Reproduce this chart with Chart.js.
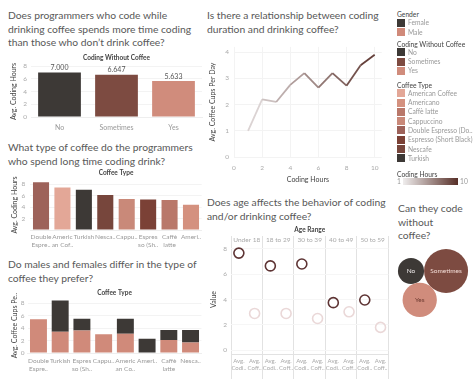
<!DOCTYPE html>
<html>
<head>
<meta charset="utf-8">
<script src="https://cdn.jsdelivr.net/npm/chart.js@4.4.1/dist/chart.umd.min.js"></script>
<style>
  body { margin: 0; background: #fff; width: 474px; height: 379px; overflow: hidden; position: relative; font-family: Lato, sans-serif; }
  canvas { position: absolute; }
  .title { position: absolute; font-size: 10.3px; line-height: 13.7px; color: #585858; white-space: nowrap; }
  .lg { position: absolute; font-size: 6.7px; color: #999; white-space: nowrap; line-height: 8px; }
  .lg.head { color: #444; }
  .sw { position: absolute; width: 8px; height: 8px; }
</style>
</head>
<body>
<div class="title" style="left:8px;top:9px">Does programmers who code while<br>drinking coffee spends more time coding<br>than those who don’t drink coffee?</div>
<div class="title" style="left:8px;top:141px">What type of coffee do the programmers<br>who spend long time coding drink?</div>
<div class="title" style="left:8px;top:258px">Do males and females differ in the type of<br>coffee they prefer?</div>
<div class="title" style="left:207px;top:9px">Is there a relationship between coding<br>duration and drinking coffee?</div>
<div class="title" style="left:207px;top:196px">Does age affects the behavior of coding<br>and/or drinking coffee?</div>
<div class="title" style="left:398px;top:202px">Can they code<br>without<br>coffee?</div>

<canvas id="habitChart" width="205" height="90" style="left:0;top:50px"></canvas>
<canvas id="typeChart" width="205" height="88" style="left:0;top:165px"></canvas>
<canvas id="genderChart" width="205" height="94" style="left:0;top:285px"></canvas>
<canvas id="hoursChart" width="181" height="150" style="left:205px;top:38px"></canvas>
<canvas id="ageChart" width="190" height="157" style="left:205px;top:222px"></canvas>
<canvas id="bubbleChart" width="91" height="90" style="left:383px;top:240px"></canvas>
<div id="legend"></div>

<script>
// ---- data ----
const habits = ['No', 'Sometimes', 'Yes'];
const avgCodingByHabit = [7.000, 6.647, 5.633];
const habitCounts = [18, 51, 31];

const coffeeTypes = ['American Coffee', 'Americano', 'Caffè latte', 'Cappuccino', 'Double Espresso (Do..', 'Espresso (Short Black)', 'Nescafe', 'Turkish'];

const typeOrder = ['Double Espresso (Do..', 'American Coffee', 'Turkish', 'Nescafe', 'Cappuccino', 'Espresso (Short Black)', 'Caffè latte', 'Americano'];
const typeTicks = [['Double', 'Espre..'], ['Americ', 'an Cof..'], 'Turkish', 'Nesca..', 'Cappu..', ['Espres', 'so (Sh..'], ['Caffè', 'latte'], 'Ameri..'];
const avgCodingByType = [8.3, 7.4, 7.0, 6.1, 5.4, 5.3, 5.2, 4.4];

const genderTicks = [['Double', 'Espre..'], 'Turkish', ['Espres', 'so (Sh..'], 'Cappu..', ['Americ', 'an Co..'], 'Ameri..', ['Caffè', 'latte'], 'Nesca..'];
const maleCups = [5.4, 3.4, 3.6, 3.0, 3.1, 0, 2.1, 1.7];
const femaleCups = [0, 5.0, 1.9, 0, 2.4, 2.3, 1.6, 2.0];

const codingHours = [1, 2, 3, 4, 5, 6, 7, 8, 9, 10];
const cupsPerDay = [1.0, 2.2, 2.1, 2.75, 3.2, 2.65, 3.2, 2.72, 3.5, 3.9];

const ageRanges = ['Under 18', '18 to 29', '30 to 39', '40 to 49', '50 to 59'];
const ageCoding = [7.66, 6.65, 6.8, 3.75, 3.96];
const ageCoffee = [2.9, 2.9, 2.5, 3.03, 1.8];

// ---- colours ----
const habitColors = ['#3d3936', '#7d4b41', '#d08c7c'];
const genderColors = { Female: '#3d3936', Male: '#d08a7a' };
const coffeeColors = {
    'American Coffee': '#e3a797',
    'Americano': '#d4917f',
    'Caffè latte': '#b9786a',
    'Cappuccino': '#c98979',
    'Double Espresso (Do..': '#9d625a',
    'Espresso (Short Black)': '#7b4136',
    'Nescafe': '#77463c',
    'Turkish': '#3d3936'
};
const hoursLight = [226, 220, 220];
const hoursDark = [94, 55, 49];

Chart.defaults.font.family = 'Lato, sans-serif';
Chart.defaults.font.size = 7;
Chart.defaults.color = '#999';
Chart.defaults.animation = false;
Chart.defaults.plugins.legend.display = false;
Chart.defaults.plugins.tooltip.enabled = false;

function fixSize(prop, v) {
    return function (scale) { scale[prop] = v; };
}

const headerPlugin = {
    id: 'header',
    afterDraw(chart, args, opts) {
        if (!opts.text) return;
        const ctx = chart.ctx;
        const area = chart.chartArea;
        ctx.save();
        ctx.font = 'bold 6.5px Lato';
        ctx.fillStyle = '#444';
        ctx.textAlign = 'center';
        ctx.textBaseline = 'middle';
        ctx.fillText(opts.text, (area.left + area.right) / 2, opts.y);
        ctx.restore();
    }
};
Chart.register(headerPlugin);

function mix(t) {
    const c = hoursLight.map((v, i) => Math.round(v + (hoursDark[i] - v) * t));
    return 'rgb(' + c.join(',') + ')';
}

// ---- 1: coding without coffee ----
new Chart(document.getElementById('habitChart'), {
    type: 'bar',
    data: {
        labels: habits,
        datasets: [{
            data: avgCodingByHabit,
            backgroundColor: habitColors,
            barPercentage: 0.75,
            categoryPercentage: 1
        }]
    },
    options: {
        responsive: false,
        layout: { padding: { top: 16, right: 3 } },
        scales: {
            x: {
                afterFit: fixSize('height', 23),
                grid: { display: false, drawTicks: false },
                border: { color: '#eee' },
                ticks: { padding: 6.5, font: { size: 7 } }
            },
            y: {
                min: 0, max: 8,
                afterFit: fixSize('width', 31),
                grid: { color: '#f3f3f3', drawTicks: false },
                border: { display: false },
                ticks: { stepSize: 2, padding: 4, font: { size: 6.5 }, color: '#aaa' },
                title: { display: true, text: 'Avg. Coding Hours', color: '#444', font: { size: 7 }, padding: { top: 9.8 } }
            }
        },
        plugins: { header: { text: 'Coding Without Coffee', y: 8 } }
    },
    plugins: [{
        id: 'values',
        afterDatasetsDraw(chart) {
            const ctx = chart.ctx;
            ctx.save();
            ctx.font = '7px Lato';
            ctx.fillStyle = '#555';
            ctx.textAlign = 'center';
            ctx.textBaseline = 'bottom';
            chart.getDatasetMeta(0).data.forEach(function (bar, i) {
                ctx.fillText(avgCodingByHabit[i].toFixed(3), bar.x, bar.y - 1);
            });
            ctx.restore();
        }
    }]
});

// ---- 2: coding hours by coffee type ----
new Chart(document.getElementById('typeChart'), {
    type: 'bar',
    data: {
        labels: typeTicks,
        datasets: [{
            data: avgCodingByType,
            backgroundColor: typeOrder.map(t => coffeeColors[t]),
            barPercentage: 0.75,
            categoryPercentage: 1
        }]
    },
    options: {
        responsive: false,
        layout: { padding: { top: 15, right: 3.3 } },
        scales: {
            x: {
                afterFit: fixSize('height', 23),
                grid: { display: false, drawTicks: false },
                border: { color: '#eee' },
                ticks: { padding: 3.5, autoSkip: false, maxRotation: 0, font: { size: 6.5, lineHeight: 1.15 } }
            },
            y: {
                min: 0, max: 8.7,
                afterFit: fixSize('width', 30.3),
                grid: { color: '#f3f3f3', drawTicks: false },
                border: { display: false },
                ticks: {
                    stepSize: 2, padding: 5, includeBounds: false, font: { size: 6.5 }, color: '#aaa',
                    callback: v => (v === 0 ? '' : v)
                },
                title: { display: true, text: 'Avg. Coding Hours', color: '#444', font: { size: 7 }, padding: { top: 10.8 } }
            }
        },
        plugins: { header: { text: 'Coffee Type', y: 8 } }
    }
});

// ---- 3: cups by coffee type and gender ----
new Chart(document.getElementById('genderChart'), {
    type: 'bar',
    data: {
        labels: genderTicks,
        datasets: [
            { label: 'Male', data: maleCups, backgroundColor: genderColors.Male, barPercentage: 0.78, categoryPercentage: 1 },
            { label: 'Female', data: femaleCups, backgroundColor: genderColors.Female, barPercentage: 0.78, categoryPercentage: 1 }
        ]
    },
    options: {
        responsive: false,
        layout: { padding: { top: 13, right: 3.3 } },
        scales: {
            x: {
                stacked: true,
                afterFit: fixSize('height', 26),
                grid: { display: false, drawTicks: false },
                border: { color: '#eee' },
                ticks: { padding: 4, autoSkip: false, maxRotation: 0, font: { size: 6.5, lineHeight: 1.2 } }
            },
            y: {
                stacked: true,
                min: 0, max: 8.8,
                afterFit: fixSize('width', 27.6),
                grid: { color: '#f3f3f3', drawTicks: false },
                border: { display: false },
                ticks: { stepSize: 2, padding: 3, includeBounds: false, font: { size: 6.5 }, color: '#aaa' },
                title: { display: true, text: 'Avg. Coffee Cups Pe..', color: '#444', font: { size: 7 }, padding: { top: 10.8 } }
            }
        },
        plugins: { header: { text: 'Coffee Type', y: 8 } }
    }
});

// ---- 4: cups per day by coding hours ----
new Chart(document.getElementById('hoursChart'), {
    type: 'line',
    data: {
        datasets: [{
            data: codingHours.map((hr, i) => ({ x: hr, y: cupsPerDay[i] })),
            borderWidth: 1.8,
            pointRadius: 0,
            segment: {
                borderColor: c => mix(((c.p0.parsed.x + c.p1.parsed.x) / 2 - 1) / 9)
            }
        }]
    },
    options: {
        responsive: false,
        layout: { padding: { right: 1 } },
        scales: {
            x: {
                type: 'linear',
                min: 0, max: 10.5,
                afterFit: fixSize('height', 31),
                grid: { color: '#f3f3f3', drawTicks: false },
                border: { display: false },
                ticks: { stepSize: 2, padding: 7.5, includeBounds: false, font: { size: 6.5 }, color: '#aaa' },
                title: { display: true, text: 'Coding Hours', color: '#444', font: { size: 7 }, padding: { bottom: 3.8 } }
            },
            y: {
                min: 0, max: 4.2,
                afterFit: fixSize('width', 29),
                grid: { color: '#f3f3f3', drawTicks: false },
                border: { display: false },
                ticks: { stepSize: 1, padding: 5, includeBounds: false, font: { size: 6.5 }, color: '#aaa' },
                title: { display: true, text: 'Avg. Coffee Cups Per Day', color: '#444', font: { size: 7 }, padding: { top: 3.8 } }
            }
        }
    }
});

// ---- 5: age range ----
new Chart(document.getElementById('ageChart'), {
    type: 'line',
    data: {
        labels: ageRanges.flatMap(() => [['Avg.', 'Codi..'], ['Avg.', 'Coff..']]),
        datasets: [
            {
                data: ageCoding.flatMap(v => [v, null]),
                showLine: false,
                pointRadius: 5,
                pointBorderWidth: 1.6,
                pointBorderColor: '#5e3434',
                pointBackgroundColor: 'rgba(255,255,255,0)'
            },
            {
                data: ageCoffee.flatMap(v => [null, v]),
                showLine: false,
                pointRadius: 5,
                pointBorderWidth: 1.6,
                pointBorderColor: '#ead8d8',
                pointBackgroundColor: 'rgba(255,255,255,0)'
            }
        ]
    },
    options: {
        responsive: false,
        layout: { padding: { right: 3 } },
        scales: {
            x: {
                offset: true,
                afterFit: fixSize('height', 25),
                grid: {
                    offset: true,
                    tickLength: 25,
                    color: c => (c.index === undefined || c.index % 2 === 0 ? '#e2e2e2' : 'rgba(0,0,0,0)')
                },
                border: { color: '#e2e2e2' },
                ticks: { padding: -21.4, autoSkip: false, maxRotation: 0, font: { size: 6, lineHeight: 1.15 }, color: '#aaa' }
            },
            x2: {
                type: 'category',
                position: 'top',
                labels: ageRanges,
                offset: true,
                afterFit: fixSize('height', 23),
                grid: { offset: true, drawOnChartArea: false, tickLength: 9, color: '#e2e2e2' },
                border: { display: false },
                ticks: { padding: -8, autoSkip: false, maxRotation: 0, font: { size: 6.5 }, color: '#aaa' },
                title: { display: true, text: 'Age Range', color: '#444', font: { size: 6.5, weight: 'bold' }, padding: { top: 3.8 } }
            },
            y: {
                min: -0.3, max: 8.3,
                afterFit: fixSize('width', 26),
                grid: { color: '#f6f6f6', drawTicks: false },
                border: { display: false },
                ticks: { stepSize: 2, padding: 4, includeBounds: false, font: { size: 6.5 }, color: '#aaa' },
                title: { display: true, text: 'Value', color: '#444', font: { size: 7 }, padding: { top: 4.8 } }
            }
        }
    }
});

// ---- 6: packed bubbles ----
const radii = habitCounts.map(v => 3.08 * Math.sqrt(v));
const rN = radii[0], rS = radii[1], rY = radii[2];
const dNS = rS + rN, dSY = rS + rY, dNY = rN + rY;
const along = (dSY * dSY - dNY * dNY + dNS * dNS) / (2 * dNS);
const drop = Math.sqrt(dSY * dSY - along * along);
const pos = [[-dNS, 0], [0, 0], [-along, drop]];
const minX = Math.min(pos[0][0] - rN, pos[2][0] - rY), maxX = rS;
const minY = -rS, maxY = pos[2][1] + rY;
const cx = 50 - (minX + maxX) / 2, cy = 43 - (minY + maxY) / 2;

new Chart(document.getElementById('bubbleChart'), {
    type: 'bubble',
    data: {
        datasets: [{
            data: habits.map((name, i) => ({ x: pos[i][0] + cx, y: pos[i][1] + cy, r: radii[i] })),
            backgroundColor: habitColors,
            borderWidth: 0,
            hoverBorderWidth: 0,
            clip: false
        }]
    },
    options: {
        responsive: false,
        layout: { padding: 0, autoPadding: false },
        scales: {
            x: { display: false, min: 0, max: 91 },
            y: { display: false, min: 0, max: 90, reverse: true }
        }
    },
    plugins: [{
        id: 'bubbleLabels',
        afterDatasetsDraw(chart) {
            const ctx = chart.ctx;
            const textColors = ['#f2eeee', '#f3dcd6', '#6d3a30'];
            ctx.save();
            ctx.font = '6.5px Lato';
            ctx.textAlign = 'center';
            ctx.textBaseline = 'middle';
            chart.getDatasetMeta(0).data.forEach(function (pt, i) {
                ctx.fillStyle = textColors[i];
                ctx.fillText(habits[i], pt.x, pt.y);
            });
            ctx.restore();
        }
    }]
});

// ---- legend ----
const legend = document.getElementById('legend');
let y = 10;
function addHead(text) {
    const d = document.createElement('div');
    d.className = 'lg head';
    d.style.left = '397px';
    d.style.top = y + 'px';
    d.textContent = text;
    legend.appendChild(d);
    y += 8.2;
}
function addItem(text, color) {
    const s = document.createElement('div');
    s.className = 'sw';
    s.style.left = '397px';
    s.style.top = (y + 0.5) + 'px';
    s.style.background = color;
    legend.appendChild(s);
    const d = document.createElement('div');
    d.className = 'lg';
    d.style.left = '408px';
    d.style.top = y + 'px';
    d.textContent = text;
    legend.appendChild(d);
    y += 9.3;
}
addHead('Gender');
addItem('Female', genderColors.Female);
addItem('Male', genderColors.Male);
y = 39.5;
addHead('Coding Without Coffee');
habits.forEach((hb, i) => addItem(hb, habitColors[i]));
y = 80.5;
addHead('Coffee Type');
coffeeTypes.forEach(t => addItem(t, coffeeColors[t]));
y = 169.5;
addHead('Coding Hours');
const one = document.createElement('div');
one.className = 'lg';
one.style.cssText = 'left:397px;top:' + (y - 0.5) + 'px';
one.textContent = codingHours[0];
legend.appendChild(one);
const bar = document.createElement('div');
bar.style.cssText = 'position:absolute;left:403px;top:' + y + 'px;width:55px;height:7px;background:linear-gradient(to right,' + mix(-0.1) + ',' + mix(1.05) + ')';
legend.appendChild(bar);
const ten = document.createElement('div');
ten.className = 'lg';
ten.style.cssText = 'left:460px;top:' + (y - 0.5) + 'px';
ten.textContent = codingHours[codingHours.length - 1];
legend.appendChild(ten);
</script>
</body>
</html>
